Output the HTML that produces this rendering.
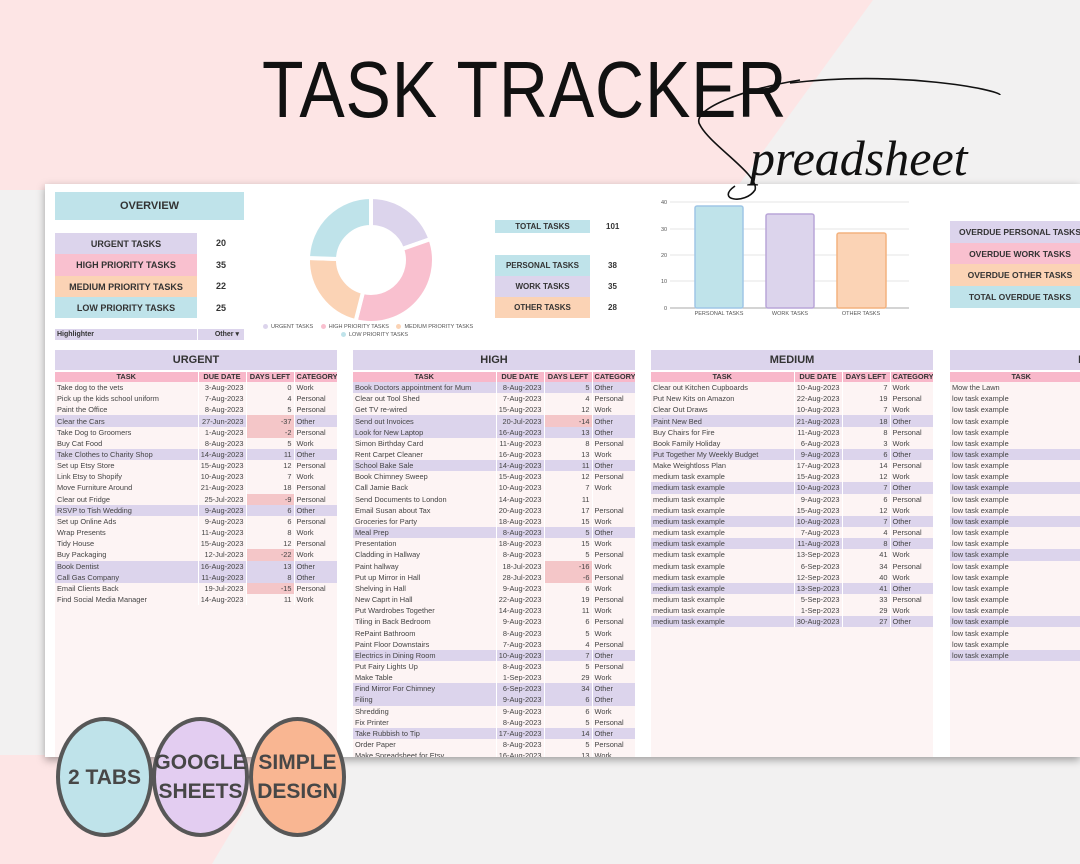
<!DOCTYPE html>
<html><head><meta charset="utf-8">
<style>
*{margin:0;padding:0;box-sizing:border-box}
html,body{width:1080px;height:864px;overflow:hidden}
body{position:relative;background:#f2f1f1;font-family:"Liberation Sans",sans-serif;color:#444}
.abs{position:absolute}
.card{position:absolute;left:45px;top:184px;width:1035px;height:573px;background:#fff;box-shadow:0 3px 8px rgba(0,0,0,.35);overflow:hidden}
.box{position:absolute;display:flex;align-items:center;justify-content:center;font-size:9px;font-weight:bold;color:#333;white-space:nowrap;overflow:hidden}
.num{position:absolute;font-size:9px;font-weight:bold;color:#333}
.pu{background:#dcd4ec}.pk{background:#f9c0cf}.pe{background:#fbd3b5}.bl{background:#bfe3ea}
.tw{position:absolute;top:166px;width:282px}
.tt{height:20px;background:#dcd4ec;text-align:center;font-size:11px;font-weight:bold;color:#333;line-height:20px;overflow:hidden}
table{border-collapse:collapse;table-layout:fixed;width:282px;font-size:7.4px;margin-top:2px}
td{height:11.17px;line-height:11px;padding:0 2px;white-space:nowrap;overflow:hidden;background:#fdf4f4;border-right:1px solid #fff}
tr.h td{background:#f8b8ca;font-weight:bold;text-align:center;color:#333;height:10px;line-height:10px}
tr.p td{background:#dcd4ec}
tr.e td{border-right:none}
td:nth-child(2){text-align:right}td:nth-child(3){text-align:right}
td.n{background:#f4c6c8!important}
.leg{position:absolute;font-size:5.5px;color:#555;white-space:nowrap}
.leg i{display:inline-block;width:5px;height:5px;border-radius:50%;margin:0 3px 0 6px;vertical-align:middle}
.circ{position:absolute;top:717px;width:97px;height:120px;border-radius:50%;border:4px solid #575757;display:flex;align-items:center;justify-content:center;text-align:center;font-size:21px;font-weight:bold;color:#474747;line-height:29px}
</style></head><body>
<svg class="abs" style="left:0;top:0" width="1080" height="864">
<polygon points="0,0 873,0 735,190 0,190" fill="#fde5e5"/>
<polygon points="0,755 277,755 212,864 0,864" fill="#fde5e5"/>
</svg>
<div class="abs" style="left:262px;top:45px;font-size:80px;line-height:90px;color:#111;transform:scaleX(0.85);transform-origin:left top;letter-spacing:1px">TASK TRACKER</div>

<div class="card">
<div class="box bl" style="left:10px;top:8px;width:189px;height:28px;font-size:11px">OVERVIEW</div>
<div class="box pu" style="left:10px;top:49px;width:142px;height:21px">URGENT TASKS</div>
<div class="box pk" style="left:10px;top:70px;width:142px;height:22px">HIGH PRIORITY TASKS</div>
<div class="box pe" style="left:10px;top:92px;width:142px;height:21px">MEDIUM PRIORITY TASKS</div>
<div class="box bl" style="left:10px;top:113px;width:142px;height:21px">LOW PRIORITY TASKS</div>
<div class="num" style="left:171px;top:54px">20</div>
<div class="num" style="left:171px;top:76px">35</div>
<div class="num" style="left:171px;top:97px">22</div>
<div class="num" style="left:171px;top:119px">25</div>
<div class="abs pu" style="left:10px;top:145px;width:142px;height:11px;font-size:7px;font-weight:bold;line-height:11px;padding-left:2px;color:#333">Highlighter</div>
<div class="abs pu" style="left:153px;top:145px;width:46px;height:11px;font-size:7px;font-weight:bold;line-height:11px;text-align:right;padding-right:5px;color:#333">Other ▾</div>

<svg class="abs" style="left:-45px;top:-184px" width="500" height="400">
<g stroke="#fff" stroke-width="4">
<path d="M371,197 A63,63 0 0 1 430.4,239.1 L402.1,249 A33,33 0 0 0 371,227 Z" fill="#dcd4ec"/>
<path d="M430.4,239.1 A63,63 0 0 1 355.6,321.1 L363,292 A33,33 0 0 0 402.1,249 Z" fill="#f9c0cf"/>
<path d="M355.6,321.1 A63,63 0 0 1 308,258 L338,259 A33,33 0 0 0 363,292 Z" fill="#fbd3b5"/>
<path d="M308,258 A63,63 0 0 1 371,197 L371,227 A33,33 0 0 0 338,259 Z" fill="#bfe3ea"/>
</g></svg>
<div class="leg" style="left:212px;top:140px"><i style="background:#dcd4ec"></i>URGENT TASKS <i style="background:#f9c0cf"></i>HIGH PRIORITY TASKS <i style="background:#fbd3b5"></i>MEDIUM PRIORITY TASKS</div>
<div class="leg" style="left:290px;top:148px"><i style="background:#bfe3ea"></i>LOW PRIORITY TASKS</div>

<div class="box bl" style="left:450px;top:36px;width:95px;height:13px;font-size:8px">TOTAL TASKS</div>
<div class="num" style="left:561px;top:38px;font-size:8px">101</div>
<div class="box bl" style="left:450px;top:71px;width:95px;height:21px;font-size:8px">PERSONAL TASKS</div>
<div class="box pu" style="left:450px;top:92px;width:95px;height:21px;font-size:8px">WORK TASKS</div>
<div class="box pe" style="left:450px;top:113px;width:95px;height:21px;font-size:8px">OTHER TASKS</div>
<div class="num" style="left:563px;top:77px;font-size:8px">38</div>
<div class="num" style="left:563px;top:98px;font-size:8px">35</div>
<div class="num" style="left:563px;top:119px;font-size:8px">28</div>

<svg class="abs" style="left:-45px;top:-184px" width="1000" height="340">
<g stroke="#e6e6e6" stroke-width="1"><line x1="670" y1="202" x2="909" y2="202"/><line x1="670" y1="229" x2="909" y2="229"/><line x1="670" y1="255" x2="909" y2="255"/><line x1="670" y1="281" x2="909" y2="281"/></g>
<line x1="670" y1="308" x2="909" y2="308" stroke="#aaa"/>
<g font-size="5.5" fill="#555" font-family="Liberation Sans"><text x="661" y="204">40</text><text x="661" y="231">30</text><text x="661" y="257">20</text><text x="661" y="283">10</text><text x="664" y="310">0</text>
<text x="719" y="315" text-anchor="middle">PERSONAL TASKS</text><text x="790" y="315" text-anchor="middle">WORK TASKS</text><text x="861" y="315" text-anchor="middle">OTHER TASKS</text></g>
<rect x="695" y="206" width="48" height="102" rx="2" fill="#bfe3ea" stroke="#9fc6e6" stroke-width="1.5"/>
<rect x="766" y="214" width="48" height="94" rx="2" fill="#dcd4ec" stroke="#b9a5d8" stroke-width="1.5"/>
<rect x="837" y="233" width="49" height="75" rx="2" fill="#fbd3b5" stroke="#f3b27e" stroke-width="1.5"/>
</svg>

<div class="box pu" style="left:905px;top:37px;width:140px;height:22px;font-size:8.5px">OVERDUE PERSONAL TASKS</div>
<div class="box pk" style="left:905px;top:59px;width:140px;height:21px;font-size:8.5px">OVERDUE WORK TASKS</div>
<div class="box pe" style="left:905px;top:80px;width:140px;height:22px;font-size:8.5px">OVERDUE OTHER TASKS</div>
<div class="box bl" style="left:905px;top:102px;width:140px;height:22px;font-size:8.5px">TOTAL OVERDUE TASKS</div>

<div class="tw" style="left:10px"><div class="tt">URGENT</div>
<table><colgroup><col style="width:143px"><col style="width:48px"><col style="width:48px"><col style="width:43px"></colgroup>
<tr class="h"><td>TASK</td><td style="text-align:center">DUE DATE</td><td style="text-align:center">DAYS LEFT</td><td>CATEGORY</td></tr>
<tr><td>Take dog to the vets</td><td>3-Aug-2023</td><td>0</td><td>Work</td></tr>
<tr><td>Pick up the kids school uniform</td><td>7-Aug-2023</td><td>4</td><td>Personal</td></tr>
<tr><td>Paint the Office</td><td>8-Aug-2023</td><td>5</td><td>Personal</td></tr>
<tr class="p"><td>Clear the Cars</td><td>27-Jun-2023</td><td class="n">-37</td><td>Other</td></tr>
<tr><td>Take Dog to Groomers</td><td>1-Aug-2023</td><td class="n">-2</td><td>Personal</td></tr>
<tr><td>Buy Cat Food</td><td>8-Aug-2023</td><td>5</td><td>Work</td></tr>
<tr class="p"><td>Take Clothes to Charity Shop</td><td>14-Aug-2023</td><td>11</td><td>Other</td></tr>
<tr><td>Set up Etsy Store</td><td>15-Aug-2023</td><td>12</td><td>Personal</td></tr>
<tr><td>Link Etsy to Shopify</td><td>10-Aug-2023</td><td>7</td><td>Work</td></tr>
<tr><td>Move Furniture Around</td><td>21-Aug-2023</td><td>18</td><td>Personal</td></tr>
<tr><td>Clear out Fridge</td><td>25-Jul-2023</td><td class="n">-9</td><td>Personal</td></tr>
<tr class="p"><td>RSVP to Tish Wedding</td><td>9-Aug-2023</td><td>6</td><td>Other</td></tr>
<tr><td>Set up Online Ads</td><td>9-Aug-2023</td><td>6</td><td>Personal</td></tr>
<tr><td>Wrap Presents</td><td>11-Aug-2023</td><td>8</td><td>Work</td></tr>
<tr><td>Tidy House</td><td>15-Aug-2023</td><td>12</td><td>Personal</td></tr>
<tr><td>Buy Packaging</td><td>12-Jul-2023</td><td class="n">-22</td><td>Work</td></tr>
<tr class="p"><td>Book Dentist</td><td>16-Aug-2023</td><td>13</td><td>Other</td></tr>
<tr class="p"><td>Call Gas Company</td><td>11-Aug-2023</td><td>8</td><td>Other</td></tr>
<tr><td>Email Clients Back</td><td>19-Jul-2023</td><td class="n">-15</td><td>Personal</td></tr>
<tr><td>Find Social Media Manager</td><td>14-Aug-2023</td><td>11</td><td>Work</td></tr>
<tr class="e"><td style="height:160px"></td><td></td><td></td><td></td></tr>
</table></div>

<div class="tw" style="left:308px"><div class="tt">HIGH</div>
<table><colgroup><col style="width:143px"><col style="width:48px"><col style="width:48px"><col style="width:43px"></colgroup>
<tr class="h"><td>TASK</td><td style="text-align:center">DUE DATE</td><td style="text-align:center">DAYS LEFT</td><td>CATEGORY</td></tr>
<tr class="p"><td>Book Doctors appointment for Mum</td><td>8-Aug-2023</td><td>5</td><td>Other</td></tr>
<tr><td>Clear out Tool Shed</td><td>7-Aug-2023</td><td>4</td><td>Personal</td></tr>
<tr><td>Get TV re-wired</td><td>15-Aug-2023</td><td>12</td><td>Work</td></tr>
<tr class="p"><td>Send out Invoices</td><td>20-Jul-2023</td><td class="n">-14</td><td>Other</td></tr>
<tr class="p"><td>Look for New Laptop</td><td>16-Aug-2023</td><td>13</td><td>Other</td></tr>
<tr><td>Simon Birthday Card</td><td>11-Aug-2023</td><td>8</td><td>Personal</td></tr>
<tr><td>Rent Carpet Cleaner</td><td>16-Aug-2023</td><td>13</td><td>Work</td></tr>
<tr class="p"><td>School Bake Sale</td><td>14-Aug-2023</td><td>11</td><td>Other</td></tr>
<tr><td>Book Chimney Sweep</td><td>15-Aug-2023</td><td>12</td><td>Personal</td></tr>
<tr><td>Call Jamie Back</td><td>10-Aug-2023</td><td>7</td><td>Work</td></tr>
<tr><td>Send Documents to London</td><td>14-Aug-2023</td><td>11</td><td></td></tr>
<tr><td>Email Susan about Tax</td><td>20-Aug-2023</td><td>17</td><td>Personal</td></tr>
<tr><td>Groceries for Party</td><td>18-Aug-2023</td><td>15</td><td>Work</td></tr>
<tr class="p"><td>Meal Prep</td><td>8-Aug-2023</td><td>5</td><td>Other</td></tr>
<tr><td>Presentation</td><td>18-Aug-2023</td><td>15</td><td>Work</td></tr>
<tr><td>Cladding in Hallway</td><td>8-Aug-2023</td><td>5</td><td>Personal</td></tr>
<tr><td>Paint hallway</td><td>18-Jul-2023</td><td class="n">-16</td><td>Work</td></tr>
<tr><td>Put up Mirror in Hall</td><td>28-Jul-2023</td><td class="n">-6</td><td>Personal</td></tr>
<tr><td>Shelving in Hall</td><td>9-Aug-2023</td><td>6</td><td>Work</td></tr>
<tr><td>New Caprt in Hall</td><td>22-Aug-2023</td><td>19</td><td>Personal</td></tr>
<tr><td>Put Wardrobes Together</td><td>14-Aug-2023</td><td>11</td><td>Work</td></tr>
<tr><td>Tiling in Back Bedroom</td><td>9-Aug-2023</td><td>6</td><td>Personal</td></tr>
<tr><td>RePaint Bathroom</td><td>8-Aug-2023</td><td>5</td><td>Work</td></tr>
<tr><td>Paint Floor Downstairs</td><td>7-Aug-2023</td><td>4</td><td>Personal</td></tr>
<tr class="p"><td>Electrics in Dining Room</td><td>10-Aug-2023</td><td>7</td><td>Other</td></tr>
<tr><td>Put Fairy Lights Up</td><td>8-Aug-2023</td><td>5</td><td>Personal</td></tr>
<tr><td>Make Table</td><td>1-Sep-2023</td><td>29</td><td>Work</td></tr>
<tr class="p"><td>Find Mirror For Chimney</td><td>6-Sep-2023</td><td>34</td><td>Other</td></tr>
<tr class="p"><td>Filing</td><td>9-Aug-2023</td><td>6</td><td>Other</td></tr>
<tr><td>Shredding</td><td>9-Aug-2023</td><td>6</td><td>Work</td></tr>
<tr><td>Fix Printer</td><td>8-Aug-2023</td><td>5</td><td>Personal</td></tr>
<tr class="p"><td>Take Rubbish to Tip</td><td>17-Aug-2023</td><td>14</td><td>Other</td></tr>
<tr><td>Order Paper</td><td>8-Aug-2023</td><td>5</td><td>Personal</td></tr>
<tr><td>Make Spreadsheet for Etsy</td><td>16-Aug-2023</td><td>13</td><td>Work</td></tr>
</table></div>

<div class="tw" style="left:606px"><div class="tt">MEDIUM</div>
<table><colgroup><col style="width:143px"><col style="width:48px"><col style="width:48px"><col style="width:43px"></colgroup>
<tr class="h"><td>TASK</td><td style="text-align:center">DUE DATE</td><td style="text-align:center">DAYS LEFT</td><td>CATEGORY</td></tr>
<tr><td>Clear out Kitchen Cupboards</td><td>10-Aug-2023</td><td>7</td><td>Work</td></tr>
<tr><td>Put New Kits on Amazon</td><td>22-Aug-2023</td><td>19</td><td>Personal</td></tr>
<tr><td>Clear Out Draws</td><td>10-Aug-2023</td><td>7</td><td>Work</td></tr>
<tr class="p"><td>Paint New Bed</td><td>21-Aug-2023</td><td>18</td><td>Other</td></tr>
<tr><td>Buy Chairs for Fire</td><td>11-Aug-2023</td><td>8</td><td>Personal</td></tr>
<tr><td>Book Family Holiday</td><td>6-Aug-2023</td><td>3</td><td>Work</td></tr>
<tr class="p"><td>Put Together My Weekly Budget</td><td>9-Aug-2023</td><td>6</td><td>Other</td></tr>
<tr><td>Make Weightloss Plan</td><td>17-Aug-2023</td><td>14</td><td>Personal</td></tr>
<tr><td>medium task example</td><td>15-Aug-2023</td><td>12</td><td>Work</td></tr>
<tr class="p"><td>medium task example</td><td>10-Aug-2023</td><td>7</td><td>Other</td></tr>
<tr><td>medium task example</td><td>9-Aug-2023</td><td>6</td><td>Personal</td></tr>
<tr><td>medium task example</td><td>15-Aug-2023</td><td>12</td><td>Work</td></tr>
<tr class="p"><td>medium task example</td><td>10-Aug-2023</td><td>7</td><td>Other</td></tr>
<tr><td>medium task example</td><td>7-Aug-2023</td><td>4</td><td>Personal</td></tr>
<tr class="p"><td>medium task example</td><td>11-Aug-2023</td><td>8</td><td>Other</td></tr>
<tr><td>medium task example</td><td>13-Sep-2023</td><td>41</td><td>Work</td></tr>
<tr><td>medium task example</td><td>6-Sep-2023</td><td>34</td><td>Personal</td></tr>
<tr><td>medium task example</td><td>12-Sep-2023</td><td>40</td><td>Work</td></tr>
<tr class="p"><td>medium task example</td><td>13-Sep-2023</td><td>41</td><td>Other</td></tr>
<tr><td>medium task example</td><td>5-Sep-2023</td><td>33</td><td>Personal</td></tr>
<tr><td>medium task example</td><td>1-Sep-2023</td><td>29</td><td>Work</td></tr>
<tr class="p"><td>medium task example</td><td>30-Aug-2023</td><td>27</td><td>Other</td></tr>
<tr class="e"><td style="height:150px"></td><td></td><td></td><td></td></tr>
</table></div>

<div class="tw" style="left:905px"><div class="tt">LOW</div>
<table><colgroup><col style="width:143px"><col style="width:48px"><col style="width:48px"><col style="width:43px"></colgroup>
<tr class="h"><td>TASK</td><td>DUE DATE</td><td>DAYS LEFT</td><td>CATEGORY</td></tr>
<tr><td>Mow the Lawn</td><td></td><td></td><td></td></tr>
<tr><td>low task example</td><td></td><td></td><td></td></tr>
<tr><td>low task example</td><td></td><td></td><td></td></tr>
<tr><td>low task example</td><td></td><td></td><td></td></tr>
<tr><td>low task example</td><td></td><td></td><td></td></tr>
<tr><td>low task example</td><td></td><td></td><td></td></tr>
<tr class="p"><td>low task example</td><td></td><td></td><td></td></tr>
<tr><td>low task example</td><td></td><td></td><td></td></tr>
<tr><td>low task example</td><td></td><td></td><td></td></tr>
<tr class="p"><td>low task example</td><td></td><td></td><td></td></tr>
<tr><td>low task example</td><td></td><td></td><td></td></tr>
<tr><td>low task example</td><td></td><td></td><td></td></tr>
<tr class="p"><td>low task example</td><td></td><td></td><td></td></tr>
<tr><td>low task example</td><td></td><td></td><td></td></tr>
<tr><td>low task example</td><td></td><td></td><td></td></tr>
<tr class="p"><td>low task example</td><td></td><td></td><td></td></tr>
<tr><td>low task example</td><td></td><td></td><td></td></tr>
<tr><td>low task example</td><td></td><td></td><td></td></tr>
<tr><td>low task example</td><td></td><td></td><td></td></tr>
<tr><td>low task example</td><td></td><td></td><td></td></tr>
<tr><td>low task example</td><td></td><td></td><td></td></tr>
<tr class="p"><td>low task example</td><td></td><td></td><td></td></tr>
<tr><td>low task example</td><td></td><td></td><td></td></tr>
<tr><td>low task example</td><td></td><td></td><td></td></tr>
<tr class="p"><td>low task example</td><td></td><td></td><td></td></tr>
<tr class="e"><td style="height:120px"></td><td></td><td></td><td></td></tr>
</table></div>
</div>

<svg class="abs" style="left:0;top:0" width="1080" height="864">
<path d="M790,83 C900,70 1000,90 1000,95 M800,80 C740,90 690,110 700,125 C710,145 760,175 755,190 C745,205 715,200 735,186" fill="none" stroke="#111" stroke-width="1.6"/>
</svg>
<div class="abs" style="left:750px;top:128px;font-family:'Liberation Serif',serif;font-style:italic;font-size:50px;color:#111;line-height:60px">preadsheet</div>

<div class="circ" style="left:56px;background:#bfe3ea">2 TABS</div>
<div class="circ" style="left:152px;background:#e3cdf1">GOOGLE<br>SHEETS</div>
<div class="circ" style="left:249px;background:#f9b692">SIMPLE<br>DESIGN</div>
</body></html>
